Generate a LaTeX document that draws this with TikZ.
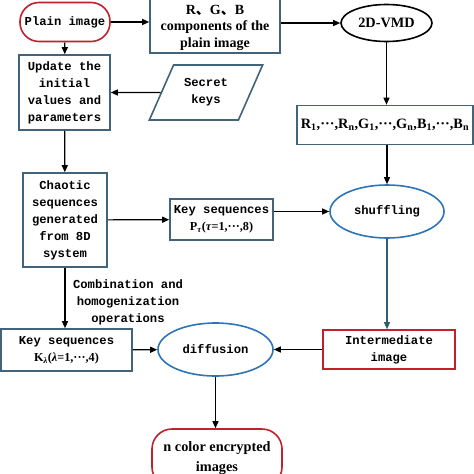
\documentclass[tikz,border=0pt]{standalone}
\usepackage{fontspec}
\setmainfont{Liberation Serif}
\newfontfamily\monof{Liberation Mono}
\newfontfamily\cjk{Noto Sans CJK SC}
\usetikzlibrary{shapes.geometric,arrows.meta}

\definecolor{boxc}{HTML}{41647A}
\definecolor{ovalc}{HTML}{2E75B6}
\definecolor{redc}{HTML}{C0212A}
\definecolor{tealc}{HTML}{2F5F6E}

\tikzset{
    box/.style={draw=boxc, line width=1.6pt, fill=white, align=center, inner sep=1pt},
    redbox/.style={box, draw=redc},
    oval/.style={ellipse, draw=ovalc, line width=1.6pt, fill=white, align=center, inner sep=0pt},
    flow/.style={-{Triangle[length=7pt,width=6pt]}, line width=1.2pt},
    mono/.style={font=\monof\bfseries\fontsize{12.2}{17}\selectfont},
    serb/.style={font=\bfseries\fontsize{14.3}{19.5}\selectfont},
}

\begin{document}
\begin{tikzpicture}[x=1pt, y=-1pt]
    \useasboundingbox[fill=white] (0,0) rectangle (474,474);

    % Top row
    \node[redbox, mono, rounded corners=19pt, minimum width=90pt, minimum height=39pt] (plain) at (65,22) {Plain image};
    \node[box, serb, minimum width=130pt, minimum height=66pt, font=\bfseries\fontsize{14}{16.5}\selectfont] (rgb) at (215,20)
        {\rule{0pt}{8pt}\\R{\cjk 、}G{\cjk 、}B\\components of the\\plain image};
    \node[oval, draw=black, serb, minimum width=91pt, minimum height=37pt] (vmd) at (386.5,23) {2D-VMD};

    % Left column
    \node[box, mono, minimum width=91pt, minimum height=75pt] (upd) at (64.5,92.5) {Update the\\initial\\values and\\parameters};
    \node[box, mono, trapezium, trapezium left angle=60, trapezium right angle=120, trapezium stretches=true,
          minimum width=114pt, minimum height=55pt] (keys) at (206,92.5) {Secret\\keys};
    \node[box, mono, minimum width=84pt, minimum height=94pt] (chaos) at (65,220) {Chaotic\\sequences\\generated\\from 8D\\system};
    \node[box, minimum width=103pt, minimum height=41pt, font=\fontsize{12.2}{17}\selectfont] (keyp) at (221.5,219.5)
        {{\monof\bfseries Key sequences}\\\textbf{P\textsubscript{\textit{τ}}(\textit{τ}=1,···,8)}};
    \node[box, minimum width=131pt, minimum height=42pt, font=\fontsize{12.2}{17}\selectfont] (keyk) at (66.5,350)
        {{\monof\bfseries Key sequences}\\\textbf{K\textsubscript{\textit{λ}}(\textit{λ}=1,···,4)}};

    % Right column
    \node[box, serb, minimum width=176pt, minimum height=39pt] (rb) at (385,125)
        {R\textsubscript{1},···,R\textsubscript{n},G\textsubscript{1},···,G\textsubscript{n},B\textsubscript{1},···,B\textsubscript{n}};
    \node[oval, mono, minimum width=114pt, minimum height=53pt] (shuf) at (387,211.5) {shuffling};
    \node[redbox, mono, minimum width=132pt, minimum height=39pt] (inter) at (389,349.5) {Intermediate\\image};
    \node[oval, mono, minimum width=115pt, minimum height=53pt] (diff) at (215.5,349.5) {diffusion};
    \node[redbox, serb, rounded corners=20pt, minimum width=130pt, minimum height=58pt] (enc) at (217,458) {n color encrypted\\images};

    \node[mono, align=center] (comb) at (128,302) {Combination and\\homogenization\\operations};

    % Arrows
    \draw[flow] (plain.east) -- (plain.east -| rgb.west);
    \draw[flow] (rgb.east |- vmd) -- (vmd);
    \draw[flow] (plain) -- (upd);
    \draw[flow] (keys) -- (upd);
    \draw[flow] (upd) -- (chaos);
    \draw[flow] (vmd.south) -- (vmd.south |- rb.north);
    \draw[flow] (shuf.north |- rb.south) -- (shuf);
    \draw[flow] (chaos) -- (keyp);
    \draw[flow] (keyp.east |- shuf) -- (shuf);
    \draw[flow, color=tealc] (shuf.south) -- (shuf.south |- inter.north);
    \draw[flow] (chaos.south) -- (chaos.south |- keyk.north);
    \draw[flow] (keyk) -- (diff);
    \draw[flow] (inter) -- (diff);
    \draw[flow] (diff.south) -- (diff.south |- enc.north);
\end{tikzpicture}
\end{document}
